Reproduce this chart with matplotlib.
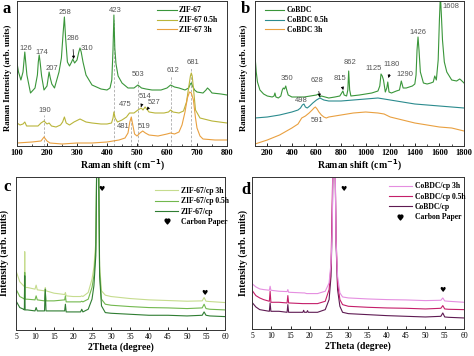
import numpy as np
import matplotlib
matplotlib.use("Agg")
import matplotlib.pyplot as plt
from matplotlib.lines import Line2D
from matplotlib.ticker import MultipleLocator

plt.rcParams['font.family'] = ['Liberation Serif', 'DejaVu Serif']

# ---------- panel a : Raman ZIF-67 (values read as pixel rows, 146 = axis bottom)
a_zif_x = [100, 105, 113, 120, 123, 126, 129, 133, 145, 160, 168, 171, 174, 177, 182, 190, 200,
           204, 207, 211, 216, 225, 240, 248, 254, 258, 262, 268, 275, 282, 286, 292, 300, 306,
           310, 314, 320, 330, 350, 380, 400, 410, 416, 420, 423, 426, 430, 437, 450, 470, 490,
           503, 515, 530, 550, 580, 600, 612, 625, 640, 660, 672, 678, 681, 685, 692, 700, 720,
           730, 735, 742, 750, 780, 800]
a_zif_y = [63, 72, 80, 72, 62, 52, 62, 75, 93, 88, 75, 62, 55, 62, 76, 90, 86,
           78, 72, 78, 84, 88, 72, 58, 32, 17, 38, 62, 66, 62, 59, 63, 60, 52,
           48, 52, 62, 75, 85, 89, 90, 88, 80, 50, 15, 48, 64, 76, 83, 88, 88,
           85, 88, 89, 90, 90, 88, 85, 87, 88, 90, 88, 84, 83, 86, 90, 92, 93,
           90, 88, 90, 93, 94, 95]

a_h05_x = [100, 110, 120, 126, 132, 150, 170, 180, 190, 200, 207, 215, 230, 245, 252, 258, 264,
           275, 290, 310, 330, 350, 380, 400, 415, 420, 423, 427, 435, 450, 465, 475, 490, 503,
           514, 520, 527, 540, 560, 590, 605, 612, 620, 640, 655, 665, 672, 678, 681, 684, 688,
           695, 710, 750, 800]
a_h05_y = [123, 125, 124, 122, 126, 126, 126, 123, 121, 124, 123, 126, 127, 125, 122, 117, 123,
           125, 122, 119, 122, 123, 124, 124, 123, 118, 112, 118, 122, 120, 117, 113, 113, 110,
           108, 110, 107, 112, 113, 113, 112, 110, 112, 113, 111, 102, 88, 76, 73, 76, 88,
           110, 118, 121, 123]

a_h3_x = [100, 150, 180, 190, 200, 210, 250, 300, 350, 400, 440, 460, 470, 476, 481, 486, 492,
          500, 510, 519, 528, 540, 570, 600, 612, 625, 640, 650, 660, 668, 675, 681, 688, 695,
          700, 710, 720, 760, 800]
a_h3_y = [143, 142, 141, 137, 141, 143, 144, 143, 143, 142, 140, 138, 133, 122, 117, 125, 134,
          136, 133, 131, 133, 135, 136, 134, 133, 134, 132, 125, 112, 98, 92, 93, 100, 118,
          128, 136, 139, 140, 140]

a_vlines = [190, 423, 481, 503, 612, 681]
a_vtop = [115, 20, 118, 80, 76, 68]
a_labels = [("126", 128, 49), ("174", 184, 52), ("207", 216, 68), ("258", 261, 13),
            ("310", 334, 49), ("423", 429, 11), ("503", 502, 74), ("612", 621, 71),
            ("681", 686, 63), ("190", 194, 111), ("475", 461, 105), ("481", 453, 126),
            ("519", 523, 126)]
a_arrows = [("286", 285, 39, 289, 59), ("514", 526, 96, 513, 107), ("527", 556, 102, 532, 110)]

# ---------- panel b : Raman CoBDC
b_cb_x = [100, 104, 110, 120, 140, 170, 200, 240, 255, 262, 270, 290, 310, 322, 330, 340, 350,
          358, 370, 400, 450, 500, 550, 600, 615, 628, 640, 700, 750, 790, 805, 815, 825, 845,
          855, 862, 870, 880, 950, 1000, 1050, 1100, 1115, 1125, 1135, 1145, 1160, 1172, 1180,
          1190, 1210, 1250, 1275, 1290, 1305, 1330, 1380, 1400, 1410, 1418, 1426, 1434, 1445,
          1470, 1500, 1530, 1550, 1562, 1575, 1590, 1600, 1608, 1616, 1625, 1640, 1660, 1700,
          1740, 1765, 1775, 1800]
b_cb_y = [53, 62, 72, 82, 90, 94, 96, 97, 96, 93, 97, 98, 96, 90, 88, 89, 86,
          90, 95, 97, 97, 97, 96, 95, 94, 97, 96, 98, 97, 96, 93, 91, 95, 96,
          90, 71, 90, 96, 95, 94, 93, 91, 86, 74, 76, 80, 92, 88, 82,
          92, 93, 91, 90, 81, 88, 88, 86, 84, 75, 50, 37, 50, 72,
          83, 84, 83, 82, 76, 80, 60, 20, -5, 15, 40, 62, 72, 80,
          81, 79, 80, 83]

b_h05_x = [100, 200, 300, 400, 450, 470, 485, 498, 510, 525, 545, 570, 600, 628, 660, 700, 800,
           900, 1000, 1100, 1200, 1300, 1400, 1500, 1600, 1700, 1800]
b_h05_y = [118, 117, 115, 112, 110, 108, 105, 104, 107, 108, 106, 103, 100, 98, 100, 101, 101,
           100, 99, 98, 100, 102, 104, 105, 106, 107, 108]

b_h3_x = [100, 200, 300, 400, 450, 480, 510, 540, 565, 580, 591, 605, 620, 640, 660, 680, 700,
          800, 900, 1000, 1100, 1150, 1200, 1300, 1400, 1500, 1600, 1700, 1800]
b_h3_y = [144, 140, 135, 128, 124, 118, 116, 113, 110, 108, 107, 109, 112, 115, 117, 118, 117,
          115, 113, 112, 113, 114, 117, 120, 123, 125, 127, 128, 131]

b_labels = [("350", 364, 79), ("862", 872, 63), ("1125", 1062, 68), ("1290", 1320, 74),
            ("1426", 1428, 32), ("1608", 1690, 7), ("498", 474, 100), ("591", 602, 120)]
b_arrows = [("628", 602, 81, 628, 97), ("815", 789, 78, 818, 90), ("1180", 1212, 64, 1186, 78)]

# ---------- panel c : XRD ZIF-67/cp (pixel rows, 462 = axis bottom)
c_x = [5, 6, 7, 7.2, 7.3, 7.4, 8, 10, 10.3, 10.6, 12.5, 12.7, 12.9, 15, 17.8, 18, 18.2, 20, 22,
       22.3, 22.6, 24, 25, 25.5, 26, 26.3, 26.7, 27, 27.5, 28.5, 30, 35, 40, 45, 50, 54, 54.5,
       55, 56, 60]
c_cp = [375, 395, 400, 402, 300, 402, 402, 405, 395, 405, 405, 340, 405, 405, 405, 385, 408, 408,
        408, 400, 408, 400, 370, 330, 240, -100, -100, 300, 390, 410, 412, 415, 418, 418, 420,
        418, 408, 418, 420, 422]
c_05 = [340, 362, 368, 370, 290, 370, 370, 372, 360, 372, 375, 345, 375, 375, 372, 360, 378, 378,
        378, 376, 378, 370, 335, 300, 220, -100, -100, 290, 370, 385, 388, 392, 395, 396, 398,
        396, 385, 398, 400, 402]
c_3h = [285, 318, 330, 332, 228, 335, 335, 340, 328, 342, 345, 335, 345, 352, 356, 350, 360, 362,
        362, 360, 362, 350, 310, 275, 200, -100, -100, 270, 345, 358, 362, 368, 372, 374, 376,
        375, 365, 376, 377, 380]
c_hearts_x = [27.5, 54.5]
c_hearts_y = [420, 112]

# ---------- panel d : XRD CoBDC/cp (pixel rows, 458 = axis bottom)
d_x = [5, 6, 7, 8, 9.5, 9.7, 9.9, 12, 14.1, 14.3, 14.5, 18.2, 18.4, 18.6, 19.2, 19.4, 19.6, 22,
       24, 25, 25.5, 25.8, 26.1, 26.5, 26.8, 27.2, 27.8, 28.5, 30, 35, 40, 45, 50, 54, 54.5, 55,
       56, 60]
d_cp = [378, 392, 400, 402, 405, 380, 405, 405, 408, 385, 408, 408, 402, 408, 408, 403, 408, 408,
        400, 370, 300, 150, -100, -100, 200, 340, 390, 408, 412, 415, 418, 420, 422, 420, 410,
        422, 423, 425]
d_05 = [342, 358, 365, 370, 375, 345, 378, 378, 380, 358, 380, 382, 382, 382, 382, 382, 382, 382,
        375, 340, 270, 80, -100, -100, 180, 320, 370, 385, 390, 393, 395, 396, 398, 396, 388,
        398, 399, 400]
d_3h = [322, 332, 338, 340, 342, 330, 342, 345, 346, 340, 348, 350, 350, 350, 352, 352, 352, 352,
        345, 320, 260, 170, -100, -100, 190, 300, 350, 362, 365, 368, 370, 371, 373, 372, 365,
        374, 375, 378]
d_hearts_x = [28.8, 54.4]
d_hearts_y = [418, 118]

grn, oli, org = '#3a963a', '#b9b53a', '#e9a040'
teal = '#2b8b8e'
c_cols = ['#2f7d32', '#72b84e', '#c6dc8e']
d_cols = ['#5e1a52', '#c41e6a', '#e58ee0']

fig = plt.figure(figsize=(4.74, 3.56), dpi=100)
W, H = 474.0, 356.0


def box(l, t, r, b):
    return [l / W, 1 - b / H, (r - l) / W, (b - t) / H]


ax_a = fig.add_axes(box(17, 1, 227, 146))
ax_b = fig.add_axes(box(255, 1, 464, 146))
ax_c = fig.add_axes(box(16, 177, 225, 330))
ax_d = fig.add_axes(box(252, 177, 464, 329))

bold = dict(fontweight='bold')
lab_font = dict(family=['Liberation Sans', 'DejaVu Sans'], fontsize=5.5, color='#555555')


def style(ax, ylab, xlab, tickbold, ysize=7):
    ax.set_yticks([])
    ax.tick_params(axis='x', direction='in', length=2, width=0.6, labelsize=6, pad=2)
    ax.tick_params(axis='x', which='minor', direction='in', length=1.2, width=0.5)
    for lb in ax.get_xticklabels():
        lb.set_fontweight('bold' if tickbold else 'normal')
    for s in ax.spines.values():
        s.set_linewidth(0.7)
        s.set_color('#333333')
    ax.set_ylabel(ylab, fontsize=ysize, **bold)
    ax.set_xlabel(xlab, fontsize=7, labelpad=1, **bold)


# panel a
ax = ax_a
for xv, tv in zip(a_vlines, a_vtop):
    ax.plot([xv, xv], [0, 146 - tv], ls=(0, (3, 2)), color='#aaaaaa', lw=0.6)
ax.plot(a_zif_x, 146 - np.array(a_zif_y), color=grn, lw=0.8, label='ZIF-67')
ax.plot(a_h05_x, 146 - np.array(a_h05_y), color=oli, lw=0.8, label='ZIF-67 0.5h')
ax.plot(a_h3_x, 146 - np.array(a_h3_y), color=org, lw=0.8, label='ZIF-67 3h')
for t, x, y in a_labels:
    ax.text(x, 146 - y, t, ha='center', va='center', **lab_font)
for t, x, y, x2, y2 in a_arrows:
    ax.annotate(t, xy=(x2, 146 - y2), xytext=(x, 146 - y), ha='center', va='center',
                arrowprops=dict(arrowstyle='-|>', color='black', lw=0.5, mutation_scale=4,
                                shrinkA=3, shrinkB=0), **lab_font)
ax.set_xlim(100, 800)
ax.set_ylim(0, 145)
ax.xaxis.set_major_locator(MultipleLocator(100))
ax.xaxis.set_minor_locator(MultipleLocator(50))
style(ax, 'Raman Intensity (arb. units)', 'Raman shift (cm$^{\\mathbf{-1}}$)', True, 6.3)
ax.yaxis.set_label_coords(-0.025, 0.47)
ax.legend(loc='upper left', bbox_to_anchor=(0.64, 1.0), frameon=False,
          handlelength=2.6, handletextpad=0.3, labelspacing=0.25, borderpad=0.2,
          prop=dict(weight='bold', size=5.5))

# panel b
ax = ax_b
ax.plot(b_cb_x, 146 - np.array(b_cb_y), color=grn, lw=0.8, label='CoBDC')
ax.plot(b_h05_x, 146 - np.array(b_h05_y), color=teal, lw=0.8, label='CoBDC 0.5h')
ax.plot(b_h3_x, 146 - np.array(b_h3_y), color=org, lw=0.8, label='CoBDC 3h')
for t, x, y in b_labels:
    ax.text(x, 146 - y, t, ha='center', va='center', **lab_font)
for t, x, y, x2, y2 in b_arrows:
    ax.annotate(t, xy=(x2, 146 - y2), xytext=(x, 146 - y), ha='center', va='center',
                arrowprops=dict(arrowstyle='-|>', color='black', lw=0.5, mutation_scale=4,
                                shrinkA=3, shrinkB=0), **lab_font)
ax.set_xlim(100, 1800)
ax.set_ylim(0, 145)
ax.xaxis.set_major_locator(MultipleLocator(200))
ax.xaxis.set_minor_locator(MultipleLocator(100))
style(ax, 'Raman Intensity (arb. units)', 'Raman shift (cm$^{\\mathbf{-1}}$)', True, 6.3)
ax.yaxis.set_label_coords(-0.033, 0.47)
ax.legend(loc='upper left', bbox_to_anchor=(0.02, 1.0), frameon=False,
          handlelength=2.6, handletextpad=0.3, labelspacing=0.25, borderpad=0.2,
          prop=dict(weight='bold', size=5.5))

heart = Line2D([], [], ls='none', marker='$\u2665$', color='black', markersize=3.5,
               label='Carbon Paper')

# panel c
ax = ax_c
hc = []
for ys, col, lb in [(c_3h, c_cols[2], 'ZIF-67/cp 3h'), (c_05, c_cols[1], 'ZIF-67/cp 0.5h'),
                    (c_cp, c_cols[0], 'ZIF-67/cp')]:
    ln, = ax.plot(c_x, 462 - np.array(ys), color=col, lw=0.8, label=lb)
    hc.append(ln)
for x, y in zip(c_hearts_x, c_hearts_y):
    ax.text(x, y, '\u2665', ha='center', va='center', fontsize=5,
            family=['DejaVu Sans'])
ax.set_xlim(5, 60)
ax.set_ylim(0, 457)
ax.xaxis.set_major_locator(MultipleLocator(5))
style(ax, 'Intensity (arb. units)', '2Theta (degree)', False)
ax.tick_params(axis='x', labelsize=5.5)
ax.yaxis.set_label_coords(-0.033, 0.5)
ax.legend(handles=hc + [heart], loc='upper left', bbox_to_anchor=(0.64, 0.97), frameon=False,
          handlelength=3.0, handletextpad=0.4, labelspacing=0.3, borderpad=0.2,
          prop=dict(weight='bold', size=5.5))

# panel d
ax = ax_d
hd = {}
for ys, col, lb in [(d_cp, d_cols[0], 'CoBDC/cp'), (d_05, d_cols[1], 'CoBDC/cp 0.5h'),
                    (d_3h, d_cols[2], 'CoBDC/cp 3h')]:
    ln, = ax.plot(d_x, 458 - np.array(ys), color=col, lw=0.8, label=lb)
    hd[lb] = ln
for x, y in zip(d_hearts_x, d_hearts_y):
    ax.text(x, y, '\u2665', ha='center', va='center', fontsize=5,
            family=['DejaVu Sans'])
ax.set_xlim(5, 60)
ax.set_ylim(0, 455)
ax.xaxis.set_major_locator(MultipleLocator(5))
style(ax, 'Intensity (arb. units)', '2Theta (degree)', False)
ax.tick_params(axis='x', labelsize=5.5)
ax.yaxis.set_label_coords(-0.02, 0.5)
ax.legend(handles=[hd['CoBDC/cp 3h'], hd['CoBDC/cp 0.5h'], hd['CoBDC/cp'], heart],
          loc='upper left', bbox_to_anchor=(0.62, 1.0), frameon=False,
          handlelength=3.0, handletextpad=0.4, labelspacing=0.3, borderpad=0.2,
          prop=dict(weight='bold', size=5.5))

# panel letters
for t, x, y in [('a', 7, 1), ('b', 245, 1), ('c', 7, 179), ('d', 246, 182)]:
    fig.text(x / W, 1 - y / H, t, fontsize=12, fontweight='bold', ha='center', va='top')

fig.savefig('out.png', dpi=100)
